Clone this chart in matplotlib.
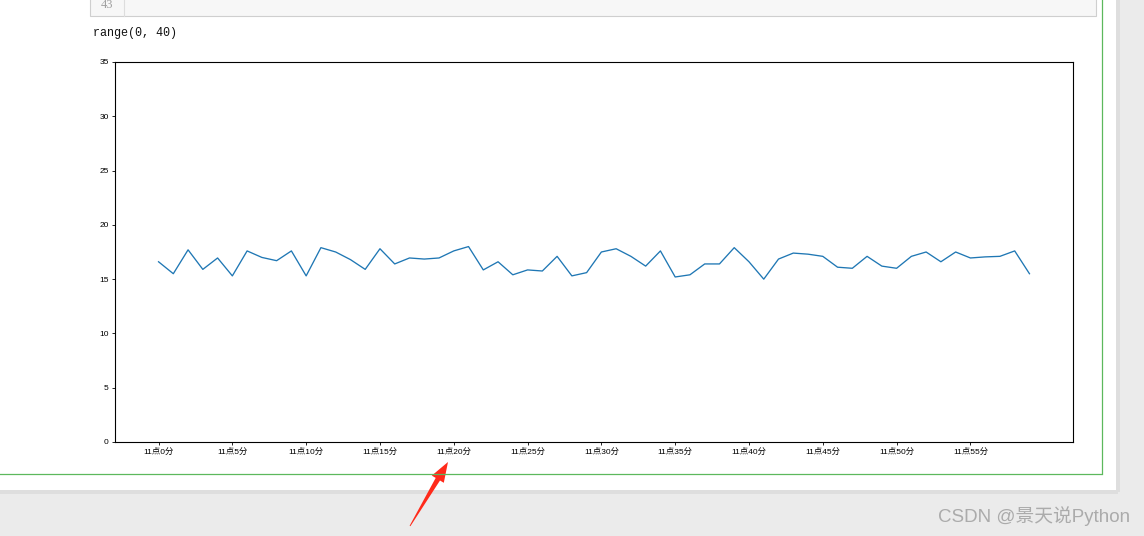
import matplotlib
matplotlib.use("Agg")
import matplotlib.pyplot as plt
from matplotlib.patches import Rectangle, Polygon

# Per-minute readings from 11:00 to 11:59
minutes = list(range(60))
values = [16.6, 15.5, 17.7, 15.9, 16.95, 15.3, 17.6, 17.0, 16.7, 17.6,
          15.3, 17.9, 17.5, 16.8, 15.9, 17.8, 16.4, 16.95, 16.85, 16.95,
          17.6, 18.0, 15.85, 16.6, 15.4, 15.85, 15.75, 17.1, 15.3, 15.6,
          17.5, 17.8, 17.1, 16.2, 17.6, 15.2, 15.4, 16.4, 16.4, 17.9,
          16.6, 15.0, 16.85, 17.4, 17.3, 17.1, 16.1, 16.0, 17.1, 16.2,
          16.0, 17.1, 17.5, 16.6, 17.5, 16.95, 17.05, 17.1, 17.6, 15.5]
tick_pos = list(range(0, 60, 5))
tick_labels = ["11点{}分".format(m) for m in tick_pos]
y_ticks = [0, 5, 10, 15, 20, 25, 30, 35]

W, H = 1144, 536
fig = plt.figure(figsize=(W / 100, H / 100), dpi=100, facecolor="#ebebeb")

# Page layer in pixel coordinates
bg = fig.add_axes([0, 0, 1, 1])
bg.set_xlim(0, W)
bg.set_ylim(H, 0)
bg.axis("off")
bg.add_patch(Rectangle((1116, 0), 4, 492, color="#dedede", lw=0))
bg.add_patch(Rectangle((0, 490), 1118, 4, color="#dedede", lw=0))
bg.add_patch(Rectangle((0, 0), 1116, 490, color="white", lw=0))
bg.plot([0, 1101], [473.5, 473.5], color="#5cb85c", lw=0.9)
bg.plot([1101.5, 1101.5], [0, 473.5], color="#5cb85c", lw=0.9)

# Input cell strip
bg.add_patch(Rectangle((89.5, -2), 1006, 18, facecolor="#f7f7f7",
                       edgecolor="#cfcfcf", lw=0.8))
bg.plot([123.5, 123.5], [-2, 16], color="#dddddd", lw=0.8)
bg.text(107, 5, "43", color="#a0a0a0", fontsize=9, ha="center",
        va="center", family="Liberation Serif")
bg.text(93, 33, "range(0, 40)", color="#111111", fontsize=8.5,
        ha="left", va="center", family="Liberation Mono")

# Red pointer arrow
bg.add_patch(Polygon([(409.6, 525.8), (435.7, 477.9), (431.8, 475.6),
                      (448, 462), (443.8, 482.8), (440.0, 480.5),
                      (410.4, 526.2)],
                     closed=True, color="#ff2a1a", lw=0))

# Watermark
bg.text(1130, 516, "CSDN @景天说Python", color="#ababab", fontsize=13.5,
        ha="right", va="center",
        family=["Liberation Sans", "Noto Sans CJK SC"])

# Main chart
ax = fig.add_axes([115 / W, (H - 442) / H, 958 / W, 380 / H])
ax.plot(minutes, values, color="#1f77b4", lw=0.95)
ax.set_ylim(0, 35)
ax.set_yticks(y_ticks)
ax.set_xticks(tick_pos)
ax.set_xticklabels(tick_labels)
for lab in ax.get_xticklabels() + ax.get_yticklabels():
    lab.set_family(["Liberation Sans", "Noto Sans CJK SC"])
    lab.set_fontsize(6)
ax.tick_params(length=2.5, width=0.6, pad=2)
for sp in ax.spines.values():
    sp.set_linewidth(0.8)

fig.savefig("out.png", dpi=100, facecolor=fig.get_facecolor())
